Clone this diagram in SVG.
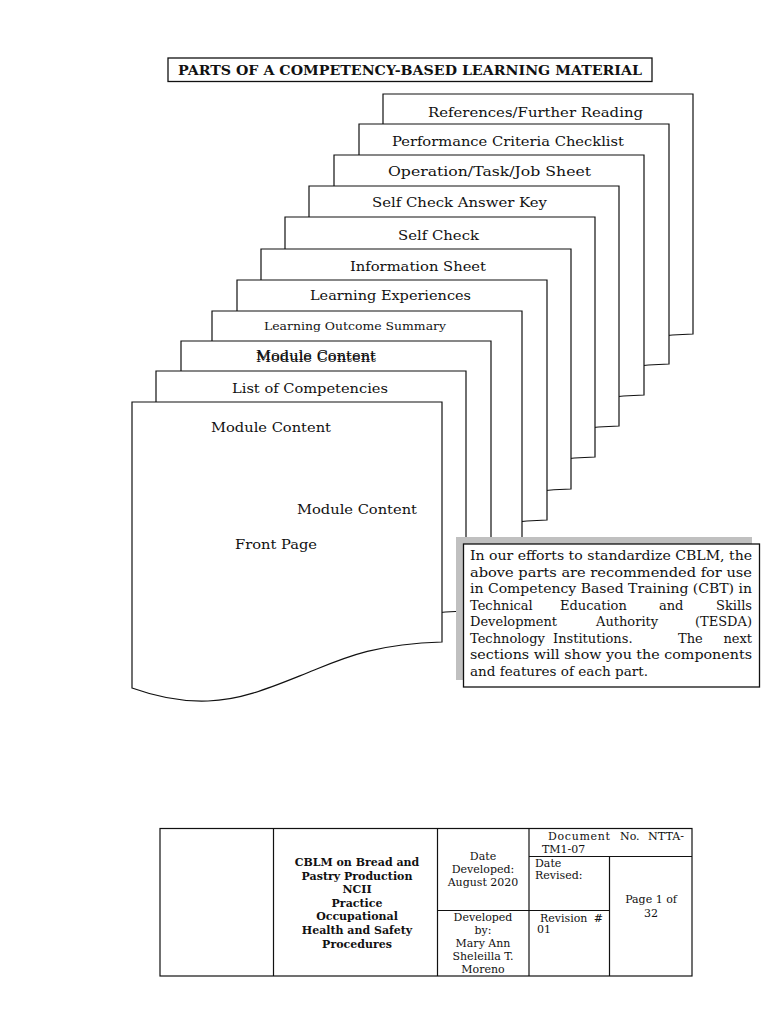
<svg xmlns="http://www.w3.org/2000/svg" xmlns:xlink="http://www.w3.org/1999/xlink" width="768" height="1024" viewBox="0 0 768 1024">
<style>
  .pg { fill: #fff; stroke: #111; stroke-width: 1.2; }
  .lbl { font-family: "DejaVu Serif", "Liberation Serif", serif; font-size: 13.5px; fill: #111; text-anchor: middle; }
  .sm { font-size: 11.5px; }
  .box { font-family: "DejaVu Serif", "Liberation Serif", serif; font-size: 13px; fill: #111; }
  .tb { font-family: "DejaVu Serif", "Liberation Serif", serif; font-size: 11px; fill: #111; }
  .tbb { font-family: "DejaVu Serif", "Liberation Serif", serif; font-size: 11px; font-weight: bold; fill: #111; text-anchor: middle; }
  .c { text-anchor: middle; }
  .ln { stroke: #111; stroke-width: 1.2; fill: none; }
</style>
<defs>
  <path id="page" d="M0,0 H310 V240 C 240,242 210,257 175,271 C 140,285 110,298 76,299 C 50,300 25,295 0,286 Z"/>
</defs>
<rect width="768" height="1024" fill="#fff"/>

<g id="title">
  <rect x="168" y="58" width="484" height="23.5" fill="#fff" stroke="#111" stroke-width="1.3"/>
  <text x="410" y="75" font-family="DejaVu Serif, Liberation Serif, serif" font-size="12.5" font-weight="bold" text-anchor="middle" textLength="464" lengthAdjust="spacingAndGlyphs" fill="#111">PARTS OF A COMPETENCY-BASED LEARNING MATERIAL</text>
</g>

<g id="p-references">
  <use xlink:href="#page" href="#page" class="pg" transform="translate(383,94)"/>
  <text class="lbl" x="535.5" y="117" textLength="215" lengthAdjust="spacingAndGlyphs">References/Further Reading</text>
</g>
<g id="p-performance">
  <use xlink:href="#page" href="#page" class="pg" transform="translate(359,124)"/>
  <text class="lbl" x="508" y="146" textLength="232" lengthAdjust="spacingAndGlyphs">Performance Criteria Checklist</text>
</g>
<g id="p-operation">
  <use xlink:href="#page" href="#page" class="pg" transform="translate(334,155)"/>
  <text class="lbl" x="489.5" y="175.5" textLength="203" lengthAdjust="spacingAndGlyphs">Operation/Task/Job Sheet</text>
</g>
<g id="p-selfcheckkey">
  <use xlink:href="#page" href="#page" class="pg" transform="translate(309,186)"/>
  <text class="lbl" x="459.5" y="207" textLength="175" lengthAdjust="spacingAndGlyphs">Self Check Answer Key</text>
</g>
<g id="p-selfcheck">
  <use xlink:href="#page" href="#page" class="pg" transform="translate(285,217)"/>
  <text class="lbl" x="438.5" y="239.5" textLength="81" lengthAdjust="spacingAndGlyphs">Self Check</text>
</g>
<g id="p-information">
  <use xlink:href="#page" href="#page" class="pg" transform="translate(261,249)"/>
  <text class="lbl" x="418" y="271" textLength="136" lengthAdjust="spacingAndGlyphs">Information Sheet</text>
</g>
<g id="p-learningexp">
  <use xlink:href="#page" href="#page" class="pg" transform="translate(237,280)"/>
  <text class="lbl" x="390.5" y="299.5" textLength="161" lengthAdjust="spacingAndGlyphs">Learning Experiences</text>
</g>
<g id="p-outcome">
  <use xlink:href="#page" href="#page" class="pg" transform="translate(212,311)"/>
  <text class="lbl sm" x="355" y="329.5" textLength="182" lengthAdjust="spacingAndGlyphs">Learning Outcome Summary</text>
</g>
<g id="p-module">
  <use xlink:href="#page" href="#page" class="pg" transform="translate(181,341)"/>
  <text class="lbl" x="316" y="359.5" textLength="120" lengthAdjust="spacingAndGlyphs">Module Content</text>
  <text class="lbl" x="316" y="362" textLength="120" lengthAdjust="spacingAndGlyphs">Module Content</text>
</g>
<g id="p-competencies">
  <use xlink:href="#page" href="#page" class="pg" transform="translate(156,371)"/>
  <text class="lbl" x="310" y="392.5" textLength="156" lengthAdjust="spacingAndGlyphs">List of Competencies</text>
</g>
<g id="p-front">
  <use xlink:href="#page" href="#page" class="pg" transform="translate(132,402)"/>
  <text class="lbl" x="271" y="431.5" textLength="120" lengthAdjust="spacingAndGlyphs">Module Content</text>
  <text class="lbl" x="357" y="513.5" textLength="120" lengthAdjust="spacingAndGlyphs">Module Content</text>
  <text class="lbl" x="276" y="549" textLength="82" lengthAdjust="spacingAndGlyphs">Front Page</text>
</g>

<g id="note">
  <rect x="456" y="537" width="296" height="143" fill="#c0c0c0"/>
  <rect x="463.5" y="544" width="296" height="143" fill="#fff" stroke="#111" stroke-width="1.3"/>
  <text class="box" x="470" y="560" textLength="282" lengthAdjust="spacingAndGlyphs">In our efforts to standardize CBLM, the</text>
  <text class="box" x="470" y="576.5" textLength="282" lengthAdjust="spacingAndGlyphs">above parts are recommended for use</text>
  <text class="box" x="470" y="593" textLength="282" lengthAdjust="spacingAndGlyphs">in Competency Based Training (CBT) in</text>
  <text class="box" x="470" y="609.5">Technical</text>
  <text class="box" x="560" y="609.5">Education</text>
  <text class="box" x="659" y="609.5">and</text>
  <text class="box" x="752" y="609.5" text-anchor="end">Skills</text>
  <text class="box" x="470" y="626">Development</text>
  <text class="box" x="596" y="626">Authority</text>
  <text class="box" x="752" y="626" text-anchor="end">(TESDA)</text>
  <text class="box" x="470" y="642.5">Technology</text>
  <text class="box" x="553" y="642.5">Institutions.</text>
  <text class="box" x="678" y="642.5">The</text>
  <text class="box" x="752" y="642.5" text-anchor="end">next</text>
  <text class="box" x="470" y="659" textLength="282" lengthAdjust="spacingAndGlyphs">sections will show you the components</text>
  <text class="box" x="470" y="675.5" textLength="178" lengthAdjust="spacingAndGlyphs">and features of each part.</text>
</g>

<g id="footer-table">
  <rect x="160" y="828.5" width="532" height="147.5" class="ln"/>
  <line x1="273.5" y1="828.5" x2="273.5" y2="976" class="ln"/>
  <line x1="437.5" y1="828.5" x2="437.5" y2="976" class="ln"/>
  <line x1="529" y1="828.5" x2="529" y2="976" class="ln"/>
  <line x1="609.5" y1="856.5" x2="609.5" y2="976" class="ln"/>
  <line x1="529" y1="856.5" x2="692" y2="856.5" class="ln"/>
  <line x1="437.5" y1="910.5" x2="609.5" y2="910.5" class="ln"/>

  <text class="tbb" x="357" y="866">CBLM on Bread and</text>
  <text class="tbb" x="357" y="879.5">Pastry Production</text>
  <text class="tbb" x="357" y="893">NCII</text>
  <text class="tbb" x="357" y="906.5">Practice</text>
  <text class="tbb" x="357" y="920">Occupational</text>
  <text class="tbb" x="357" y="934">Health and Safety</text>
  <text class="tbb" x="357" y="948">Procedures</text>

  <text class="tb c" x="483" y="860">Date</text>
  <text class="tb c" x="483" y="873">Developed:</text>
  <text class="tb c" x="483" y="886">August 2020</text>

  <text class="tb c" x="483" y="921">Developed</text>
  <text class="tb c" x="483" y="933.5">by:</text>
  <text class="tb c" x="483" y="946.5">Mary Ann</text>
  <text class="tb c" x="483" y="960">Sheleilla T.</text>
  <text class="tb c" x="483" y="973">Moreno</text>

  <text class="tb" x="548" y="840" textLength="62" lengthAdjust="spacing">Document</text>
  <text class="tb" x="620" y="840">No.</text>
  <text class="tb" x="648" y="840" textLength="36" lengthAdjust="spacingAndGlyphs">NTTA-</text>
  <text class="tb" x="542" y="853">TM1-07</text>

  <text class="tb" x="535" y="867">Date</text>
  <text class="tb" x="535" y="879">Revised:</text>

  <text class="tb" x="540" y="921.5">Revision</text>
  <text class="tb" x="603" y="921.5" text-anchor="end">#</text>
  <text class="tb" x="537" y="933">01</text>

  <text class="tb c" x="651" y="903">Page 1 of</text>
  <text class="tb c" x="651" y="916.5">32</text>
</g>
</svg>
